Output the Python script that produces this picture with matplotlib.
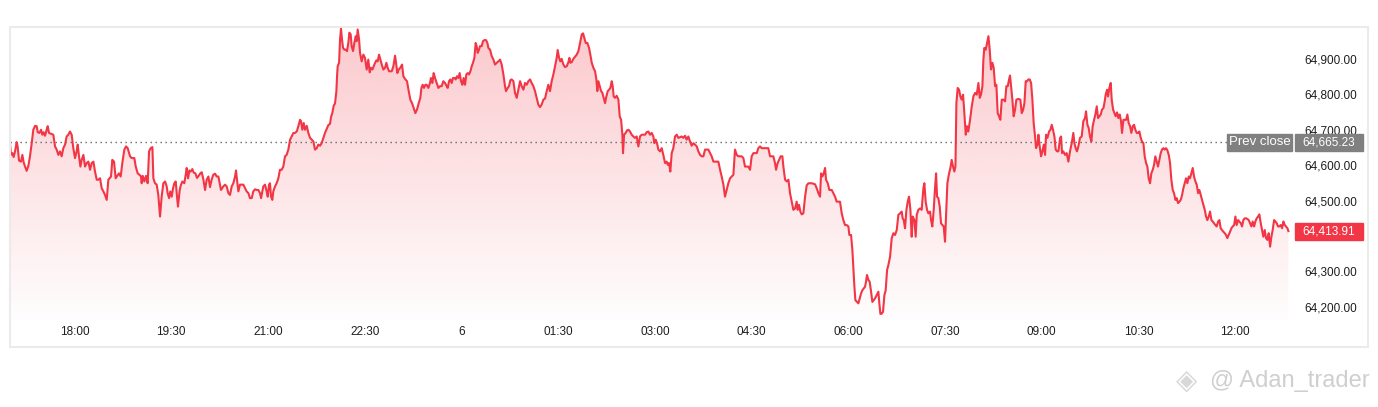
import matplotlib.pyplot as plt
import numpy as np
from matplotlib.colors import to_rgb
from matplotlib.patches import Rectangle

plt.rcParams['font.family'] = ['Liberation Sans', 'DejaVu Sans']

# minutes after 17:00 (day 5) and price
minutes_a = [
    0.0, 0.9, 2.2, 3.4, 4.7, 6.2, 7.1, 8.4, 10.2, 11.5,
    12.7, 14.0, 15.5, 17.1, 18.6, 20.2, 21.7, 23.3, 24.8, 25.8,
    27.3, 28.9, 30.1, 31.3, 32.6, 34.1, 35.1, 36.3, 38.8, 40.3,
    41.9, 43.4, 45.0, 46.5, 48.1, 49.6, 51.2, 52.7, 54.3, 55.8,
    57.4, 58.9, 60.5, 62.0, 63.0, 64.2, 65.5, 66.7, 68.3, 69.8,
    71.4, 72.9, 74.5, 76.0, 77.6, 79.1, 80.7, 82.2, 83.8, 85.3,
    86.9, 88.4, 90.0, 91.5, 94.0, 95.2, 96.8, 98.3, 99.9, 101.4,
    103.0, 104.5, 106.4, 108.0, 109.5, 111.7, 113.2, 115.7, 117.0, 118.8,
    120.4, 121.9, 122.5, 123.5, 125.0, 126.6, 128.1, 129.4, 130.9, 132.5,
    133.4, 134.9, 136.5, 138.0, 139.6, 141.1, 142.7, 144.3, 145.8, 146.7,
    148.0, 149.2, 150.5, 151.7, 152.9, 154.2, 155.4, 156.3, 157.9, 159.1,
    160.4, 162.2, 163.5, 164.4, 165.7, 166.9, 168.1, 169.7, 170.9, 172.5,
    174.0, 175.6, 177.1, 178.4, 179.9, 181.5, 183.0, 184.6, 186.1, 187.7,
    189.2, 190.8, 192.3, 193.9, 195.4,
]
prices_a = [
    64662, 64629, 64634, 64623, 64639, 64665, 64653, 64613, 64610, 64629,
    64608, 64596, 64584, 64598, 64625, 64662, 64700, 64711, 64710, 64693,
    64691, 64700, 64686, 64693, 64683, 64700, 64710, 64691, 64688, 64686,
    64653, 64644, 64629, 64639, 64625, 64648, 64658, 64681, 64686, 64695,
    64686, 64648, 64620, 64639, 64658, 64625, 64596, 64615, 64629, 64596,
    64606, 64610, 64587, 64606, 64610, 64582, 64559, 64559, 64563, 64535,
    64526, 64516, 64502, 64559, 64568, 64615, 64610, 64563, 64570, 64577,
    64568, 64606, 64644, 64653, 64648, 64625, 64620, 64620, 64596, 64577,
    64573, 64568, 64549, 64570, 64554, 64570, 64549, 64639, 64648, 64651,
    64563, 64549, 64545, 64516, 64455, 64511, 64549, 64554, 64540, 64521,
    64507, 64526, 64511, 64535, 64549, 64554, 64511, 64483, 64530, 64545,
    64554, 64549, 64573, 64592, 64563, 64585, 64582, 64589, 64579, 64577,
    64564, 64570, 64577, 64580, 64560, 64530, 64559, 64568, 64538, 64560,
    64573, 64576, 64568, 64568, 64545,
]

minutes_b = [
    196.3, 198.5, 200.1, 201.6, 203.2, 204.7, 206.3, 207.8, 209.4, 210.3,
    211.2, 212.5, 214.0, 215.6, 217.1, 218.7, 220.2, 221.8, 223.3, 224.9,
    226.4, 228.0, 229.5, 231.1, 232.6, 233.6, 234.8, 235.7, 237.3, 238.8,
    239.8, 241.0, 241.9, 242.9, 244.1, 245.0, 246.6, 248.1, 249.7, 251.2,
    252.8, 254.3, 255.9, 257.4, 259.0, 260.6, 262.1, 263.7, 265.2, 266.8,
    268.3, 269.9, 270.8, 272.0, 273.3, 274.5, 276.1, 277.6, 279.2, 280.7,
    282.3, 283.8, 285.4, 286.9, 288.5, 290.0, 291.6, 293.1, 294.7, 296.2,
    297.8, 298.7, 299.9, 301.2, 302.4, 303.7, 304.3, 304.9, 306.2, 307.1,
    308.0, 308.9, 309.9, 311.1, 312.4, 313.6, 314.8, 315.8, 317.0, 317.9,
    319.2, 320.4, 321.7, 322.6, 323.5, 324.8, 325.7, 327.2, 328.8, 330.3,
    331.9, 333.4, 334.7, 335.9, 337.2, 338.4, 339.7, 340.9, 342.1, 343.4,
    344.6, 345.9, 347.4, 349.0, 350.2, 351.4, 352.7, 355.2, 356.7, 358.3,
    359.2, 360.4, 361.7, 363.2, 364.8, 366.0, 367.9, 369.4, 371.0, 372.5,
    374.1, 375.6, 377.2, 378.7, 380.3, 381.8, 382.8, 384.0, 385.2, 386.5,
]
prices_b = [
    64530, 64540, 64545, 64540, 64521, 64516, 64540, 64549, 64568, 64585,
    64559, 64526, 64545, 64545, 64545, 64535, 64526, 64521, 64507, 64507,
    64526, 64532, 64530, 64530, 64521, 64507, 64526, 64540, 64545, 64526,
    64511, 64545, 64549, 64511, 64502, 64526, 64540, 64549, 64563, 64587,
    64587, 64596, 64625, 64629, 64644, 64672, 64681, 64691, 64691, 64695,
    64710, 64728, 64724, 64700, 64719, 64700, 64711, 64691, 64677, 64672,
    64667, 64644, 64648, 64658, 64655, 64662, 64677, 64691, 64702, 64713,
    64717, 64736, 64747, 64768, 64774, 64809, 64851, 64879, 64889, 64955,
    64985, 64955, 64931, 64926, 64926, 64922, 64945, 64974, 64969, 64936,
    64922, 64945, 64964, 64950, 64983, 64955, 64917, 64893, 64912, 64903,
    64870, 64898, 64862, 64875, 64870, 64879, 64889, 64896, 64893, 64912,
    64898, 64884, 64870, 64875, 64889, 64875, 64865, 64865, 64879, 64909,
    64889, 64860, 64870, 64875, 64884, 64851, 64842, 64837, 64809, 64785,
    64775, 64761, 64747, 64757, 64775, 64790, 64818, 64827, 64818, 64827,
]

minutes_c = [
    387.7, 389.3, 390.8, 391.7, 393.0, 394.2, 395.5, 397.0, 398.6, 400.1,
    401.7, 403.2, 404.8, 406.3, 407.3, 408.5, 409.7, 411.0, 412.2, 413.5,
    414.7, 415.9, 417.2, 418.4, 419.7, 420.9, 422.1, 423.4, 424.6, 425.9,
    427.1, 428.4, 429.6, 430.8, 432.1, 433.3, 434.2, 435.2, 436.4, 437.3,
    438.9, 440.1, 441.4, 442.9, 444.2, 445.1, 446.7, 448.2, 449.8, 451.3,
    452.9, 454.4, 456.0, 457.5, 459.1, 460.6, 461.5, 463.1, 464.3, 465.6,
    466.8, 468.4, 469.9, 471.5, 473.0, 474.6, 476.1, 477.7, 479.2, 480.8,
    482.3, 483.9, 485.4, 487.0, 488.5, 490.1, 491.6, 493.2, 494.7, 496.3,
    497.8, 499.4, 500.9, 502.5, 504.0, 505.6, 507.1, 508.7, 509.6, 510.9,
    512.1, 513.3, 514.9, 516.4, 518.0, 519.6, 520.5, 521.4, 522.7, 524.2,
    525.8, 527.3, 528.9, 530.4, 532.0, 533.2, 534.4, 535.7, 537.2, 538.8,
    540.0, 541.3, 542.8, 544.4, 545.6, 546.5, 547.5, 548.7, 550.0, 551.2,
    552.4, 553.7, 554.9, 556.2, 557.4, 558.6, 559.9, 560.8, 561.7, 563.0,
    564.5, 566.1, 567.3, 568.6, 569.8, 570.4, 571.4, 572.9, 574.1, 575.4,
    576.9, 578.5, 580.0, 581.6,
]
prices_c = [
    64827, 64818, 64832, 64846, 64832, 64860, 64846, 64832, 64818, 64823,
    64823, 64837, 64832, 64823, 64818, 64837, 64842, 64832, 64846, 64846,
    64842, 64851, 64846, 64860, 64837, 64827, 64846, 64827, 64856, 64860,
    64856, 64865, 64879, 64889, 64903, 64945, 64936, 64917, 64926, 64936,
    64936, 64950, 64953, 64953, 64945, 64931, 64926, 64908, 64898, 64884,
    64889, 64893, 64898, 64884, 64856, 64823, 64809, 64818, 64823, 64840,
    64842, 64837, 64804, 64790, 64813, 64837, 64823, 64813, 64832, 64827,
    64837, 64842, 64832, 64823, 64809, 64790, 64771, 64764, 64771, 64785,
    64788, 64809, 64827, 64809, 64837, 64856, 64879, 64903, 64925, 64903,
    64893, 64900, 64884, 64877, 64879, 64891, 64903, 64889, 64891, 64900,
    64906, 64912, 64922, 64945, 64969, 64972, 64959, 64945, 64945, 64931,
    64912, 64889, 64875, 64865, 64842, 64809, 64837, 64823, 64809, 64804,
    64790, 64775, 64794, 64809, 64813, 64818, 64837, 64823, 64794, 64790,
    64796, 64785, 64738, 64728, 64686, 64634, 64686, 64691, 64698, 64700,
    64695, 64686, 64681, 64677,
]

minutes_d = [
    583.1, 584.7, 586.2, 587.8, 589.3, 590.9, 592.4, 594.0, 595.5, 597.1,
    598.6, 599.6, 600.8, 602.0, 603.3, 604.8, 606.4, 607.9, 609.5, 611.0,
    612.0, 613.2, 614.4, 615.7, 617.2, 618.8, 620.3, 621.9, 623.4, 625.0,
    626.5, 628.1, 629.6, 631.2, 632.7, 634.3, 635.9, 637.4, 639.0, 640.5,
    642.1, 643.6, 645.2, 646.7, 648.3, 649.8, 651.4, 652.9, 654.5, 656.0,
    657.6, 659.1, 660.7, 662.2, 663.8, 665.3, 666.9, 668.4, 670.0, 671.5,
    673.1, 674.6, 676.2, 677.7, 679.3, 680.8, 682.4, 683.9, 685.5, 687.0,
    688.6, 690.1, 691.7, 693.2, 694.8, 696.3, 697.9, 699.4, 701.0, 704.1,
    705.6, 707.2, 710.3, 711.8, 712.8, 714.3, 715.6, 717.1, 718.7, 719.6,
    721.2, 722.7, 724.3, 725.8, 727.4, 728.9, 730.5, 732.0, 732.9, 734.2,
    735.4, 736.7, 738.2, 739.8, 741.3, 742.9, 746.0, 749.1, 750.6, 752.2,
    753.7, 754.7, 755.9, 757.1, 758.4, 759.3, 760.9, 762.4, 764.6, 766.1,
    767.7, 769.2, 770.8, 772.3, 773.9, 775.4, 777.0,
]
prices_d = [
    64681, 64653, 64681, 64686, 64686, 64686, 64693, 64695, 64686, 64691,
    64681, 64662, 64672, 64662, 64644, 64639, 64648, 64629, 64606, 64610,
    64601, 64606, 64582, 64634, 64648, 64681, 64686, 64677, 64679, 64681,
    64677, 64683, 64672, 64681, 64667, 64655, 64662, 64658, 64653, 64639,
    64629, 64625, 64625, 64644, 64644, 64644, 64634, 64625, 64610, 64610,
    64610, 64610, 64587, 64568, 64545, 64511, 64530, 64549, 64563, 64568,
    64573, 64644, 64629, 64625, 64625, 64625, 64620, 64596, 64596, 64596,
    64587, 64625, 64634, 64634, 64634, 64648, 64653, 64648, 64648, 64648,
    64648, 64625, 64625, 64606, 64587, 64606, 64615, 64625, 64625, 64596,
    64559, 64554, 64559, 64521, 64497, 64474, 64478, 64497, 64474, 64488,
    64469, 64461, 64464, 64511, 64543, 64549, 64549, 64546, 64535, 64521,
    64511, 64577, 64568, 64576, 64592, 64559, 64549, 64530, 64530, 64521,
    64511, 64497, 64497, 64497, 64464, 64445, 64431,
]

minutes_e = [
    778.5, 780.1, 781.0, 782.6, 783.8, 784.7, 785.7, 786.6, 788.1, 789.4,
    790.6, 791.9, 793.1, 794.3, 795.6, 796.5, 797.4, 798.7, 799.9, 801.2,
    802.4, 803.7, 804.9, 806.4, 808.0, 808.9, 809.9, 811.1, 812.3, 813.6,
    814.8, 816.1, 817.3, 818.9, 820.4, 822.0, 823.5, 825.1, 826.6, 828.2,
    829.7, 830.6, 831.6, 832.8, 834.1, 835.3, 836.5, 837.8, 839.0, 839.9,
    841.5, 842.7, 843.7, 845.2, 846.8, 848.3, 849.9, 850.8, 852.0, 853.3,
    854.5, 856.1, 857.0, 858.2, 859.5, 860.7, 861.7, 862.6, 863.8, 865.1,
    866.3, 867.6, 868.8, 870.0, 871.0, 872.2, 873.8, 875.0, 876.2, 877.5,
    878.7, 879.7, 880.6, 881.8, 883.1, 884.3, 885.5, 886.8, 888.0, 889.3,
    890.5, 891.7, 893.3, 894.9, 896.4, 898.0, 899.5, 901.1, 902.3, 903.5,
    904.8, 905.7, 906.6, 907.9, 909.1, 910.4, 911.6, 912.8, 914.1, 915.3,
    916.6, 917.8, 919.0, 920.3, 921.5, 922.8, 924.3, 925.9, 927.1, 928.4,
    929.6, 930.5, 931.5, 932.7, 933.9, 935.2, 936.4, 938.3, 940.1, 941.4,
    942.6, 943.9, 945.1, 946.3, 947.6, 948.8, 950.1, 951.3, 952.5, 953.8,
    954.7, 956.0, 956.9, 958.1, 959.4, 960.6, 961.9, 963.1, 964.0, 965.3,
    966.8, 968.1, 969.3, 970.5, 971.8, 973.0, 974.3, 975.5, 977.1,
]
prices_e = [
    64431, 64427, 64403, 64403, 64361, 64313, 64257, 64219, 64214, 64210,
    64224, 64238, 64247, 64252, 64257, 64271, 64290, 64276, 64271, 64243,
    64214, 64219, 64224, 64233, 64243, 64210, 64180, 64181, 64186, 64233,
    64247, 64304, 64318, 64342, 64394, 64408, 64403, 64417, 64460, 64464,
    64469, 64450, 64445, 64422, 64474, 64497, 64511, 64474, 64398, 64455,
    64445, 64398, 64460, 64474, 64478, 64474, 64535, 64549, 64497, 64474,
    64464, 64469, 64445, 64427, 64474, 64535, 64577, 64511, 64507, 64483,
    64436, 64431, 64427, 64384, 64460, 64549, 64577, 64592, 64615, 64596,
    64582, 64596, 64775, 64818, 64813, 64794, 64785, 64799, 64747, 64686,
    64710, 64695, 64728, 64766, 64794, 64804, 64799, 64832, 64790, 64799,
    64823, 64898, 64931, 64926, 64945, 64964, 64926, 64870, 64889, 64875,
    64823, 64827, 64747, 64738, 64728, 64785, 64785, 64780, 64823, 64823,
    64842, 64853, 64823, 64785, 64738, 64757, 64785, 64787, 64785, 64747,
    64755, 64775, 64837, 64837, 64842, 64842, 64832, 64785, 64719, 64681,
    64648, 64658, 64686, 64653, 64625, 64639, 64658, 64629, 64686, 64677,
    64695, 64700, 64714, 64700, 64681, 64644, 64639, 64639, 64677,
]

minutes_f = [
    978.0, 978.9, 980.1, 981.7, 983.2, 984.8, 986.3, 987.9, 989.4, 990.4,
    991.6, 992.8, 994.1, 995.6, 997.2, 998.7, 1000.3, 1001.2, 1002.5, 1003.7,
    1004.9, 1006.2, 1007.4, 1008.7, 1009.9, 1011.2, 1012.4, 1013.6, 1014.9, 1016.1,
    1017.4, 1018.6, 1019.5, 1020.8, 1021.7, 1022.9, 1024.2, 1025.1, 1026.4, 1027.6,
    1028.8, 1030.1, 1031.3, 1032.6, 1033.8, 1034.7, 1036.0, 1037.2, 1038.5, 1039.7,
    1040.9, 1042.2, 1043.4, 1044.7, 1045.9, 1047.1, 1048.4, 1049.6, 1050.9, 1052.1,
    1053.3, 1054.6, 1055.8, 1057.1, 1058.3, 1059.5, 1060.8, 1062.0, 1063.3, 1064.5,
    1065.7, 1067.0, 1068.2, 1069.5, 1070.7, 1071.9, 1073.2, 1074.4, 1075.7, 1076.9,
    1078.2, 1079.4, 1080.6, 1081.9, 1083.1, 1084.4, 1085.6, 1086.8, 1088.1, 1089.3,
    1090.6, 1091.8, 1093.0, 1094.3, 1095.5, 1096.8, 1098.0, 1099.2, 1100.5, 1101.7,
    1103.0, 1104.2, 1105.5, 1106.7, 1107.9, 1109.2, 1110.4, 1111.7, 1112.9, 1114.1,
    1115.4, 1116.6, 1117.9, 1119.1, 1120.3, 1121.6, 1122.8, 1124.1, 1125.3, 1126.5,
    1127.8, 1129.0, 1130.3, 1131.5, 1132.7, 1134.0, 1135.2, 1136.5, 1137.7, 1139.0,
    1140.2, 1141.4, 1142.7, 1143.9, 1145.2, 1146.4, 1147.6, 1148.9, 1150.1, 1151.4,
    1152.6, 1153.8, 1155.1, 1156.3, 1157.6, 1158.8, 1160.0, 1161.3, 1162.5, 1163.8,
    1165.0, 1166.2, 1167.5, 1168.7, 1170.0, 1171.2, 1172.5, 1173.7, 1174.9, 1176.2,
    1177.4, 1178.7, 1179.9, 1181.1, 1182.4, 1183.6, 1184.9, 1186.1, 1187.3, 1188.6,
    1189.5,
]
prices_f = [
    64681, 64634, 64639, 64629, 64634, 64610, 64639, 64662, 64691, 64662,
    64648, 64639, 64653, 64677, 64681, 64724, 64733, 64752, 64714, 64705,
    64681, 64667, 64710, 64728, 64743, 64766, 64733, 64738, 64743, 64757,
    64761, 64780, 64799, 64813, 64794, 64818, 64832, 64785, 64757, 64747,
    64738, 64749, 64733, 64743, 64724, 64691, 64728, 64728, 64728, 64743,
    64719, 64710, 64691, 64710, 64714, 64700, 64691, 64691, 64695, 64677,
    64667, 64662, 64625, 64606, 64596, 64563, 64549, 64577, 64587, 64601,
    64625, 64610, 64596, 64615, 64634, 64644, 64648, 64644, 64648, 64642,
    64629, 64606, 64559, 64530, 64521, 64502, 64507, 64493, 64497, 64502,
    64516, 64535, 64549, 64563, 64549, 64568, 64563, 64577, 64592, 64568,
    64554, 64545, 64521, 64530, 64516, 64502, 64488, 64474, 64455, 64445,
    64455, 64469, 64445, 64441, 64436, 64431, 64427, 64441, 64445, 64422,
    64417, 64412, 64408, 64403, 64394, 64403, 64412, 64422, 64427, 64431,
    64455, 64431, 64445, 64441, 64436, 64427, 64445, 64450, 64450, 64448,
    64445, 64436, 64427, 64441, 64427, 64441, 64450, 64455, 64461, 64436,
    64417, 64398, 64417, 64394, 64389, 64408, 64370, 64398, 64417, 64445,
    64441, 64436, 64427, 64427, 64431, 64422, 64441, 64431, 64427, 64422,
    64413.91,
]

prev_close = 64665.23
last_price = 64413.91

tick_minutes = [60, 150, 240, 330, 420, 510, 600, 690, 780, 870, 960, 1050, 1140]
tick_labels = ['18:00', '19:30', '21:00', '22:30', '6', '01:30', '03:00',
               '04:30', '06:00', '07:30', '09:00', '10:30', '12:00']
# 64,400 sits under the last-price tag, so it is not shown
price_ticks = [64200, 64300, 64500, 64600, 64700, 64800, 64900]

minutes = np.array(minutes_a + minutes_b + minutes_c + minutes_d + minutes_e + minutes_f)
prices = np.array(prices_a + prices_b + prices_c + prices_d + prices_e + prices_f, dtype=float)

RED = '#f23645'
GREY = '#808080'
W, H = 1378, 407
x_max = 1193.8
y_lo, y_hi = 64163, 64990

fig = plt.figure(figsize=(W / 100, H / 100), dpi=100)
ax = fig.add_axes([10 / W, 1 - 320 / H, 1283 / W, 293 / H])

ax.plot(minutes, prices, color=RED, lw=1.5, zorder=3, solid_joinstyle='round')

# area under the line, faded from top to bottom
area = ax.fill_between(minutes, prices, y_lo, color='none', lw=0)
grad = np.zeros((256, 1, 4))
grad[..., :3] = to_rgb(RED)
grad[:, 0, 3] = np.linspace(0.27, 0.01, 256)
im = ax.imshow(grad, extent=[0, x_max, y_lo, y_hi], aspect='auto',
               origin='upper', zorder=1, interpolation='bilinear')
im.set_clip_path(area.get_paths()[0], transform=ax.transData)

ax.axhline(prev_close, color='#666666', lw=1, ls=(0, (1, 2.6)), zorder=2)

ax.set_xlim(0, x_max)
ax.set_ylim(y_lo, y_hi)
ax.set_xticks(tick_minutes, tick_labels)
ax.set_yticks(price_ticks, [f'{v:,.2f}' for v in price_ticks])
ax.yaxis.tick_right()
ax.tick_params(length=0, labelsize=8.5, labelcolor='#1e1e1e')
ax.tick_params(axis='x', pad=4.5)
ax.tick_params(axis='y', pad=8)
for s in ax.spines.values():
    s.set_visible(False)

# price scale tags
yt = ax.get_yaxis_transform()
box_h = 48
ax.add_patch(Rectangle((0.9486, prev_close - box_h / 2), 0.0506, box_h, transform=yt,
                       color=GREY, clip_on=False, zorder=5))
ax.add_patch(Rectangle((1.0013, prev_close - box_h / 2), 0.0532, box_h, transform=yt,
                       color=GREY, clip_on=False, zorder=5))
ax.add_patch(Rectangle((1.0013, last_price - box_h / 2), 0.0532, box_h, transform=yt,
                       color=RED, clip_on=False, zorder=5))
ax.text(0.9740, prev_close, 'Prev close', transform=yt, ha='center', va='center',
        color='white', fontsize=9.5, zorder=6)
ax.text(1.0279, prev_close, f'{prev_close:,.2f}', transform=yt, ha='center', va='center',
        color='white', fontsize=8.5, zorder=6)
ax.text(1.0279, last_price, f'{last_price:,.2f}', transform=yt, ha='center', va='center',
        color='white', fontsize=8.5, zorder=6)

# panel frame
fig.add_artist(Rectangle((10 / W, 1 - 347 / H), 1358 / W, 320.5 / H, transform=fig.transFigure,
                         fill=False, ec='#ebebeb', lw=1.5))

# watermark
fig.text(1187 / W, 1 - 381 / H, '◈', fontsize=20, color='#d8d8d8',
         ha='center', va='center', family='DejaVu Sans')
fig.text(1370 / W, 1 - 381 / H, '@ Adan_trader', fontsize=17, color='#cfcfcf',
         ha='right', va='center')

fig.savefig('out.png', dpi=100)
